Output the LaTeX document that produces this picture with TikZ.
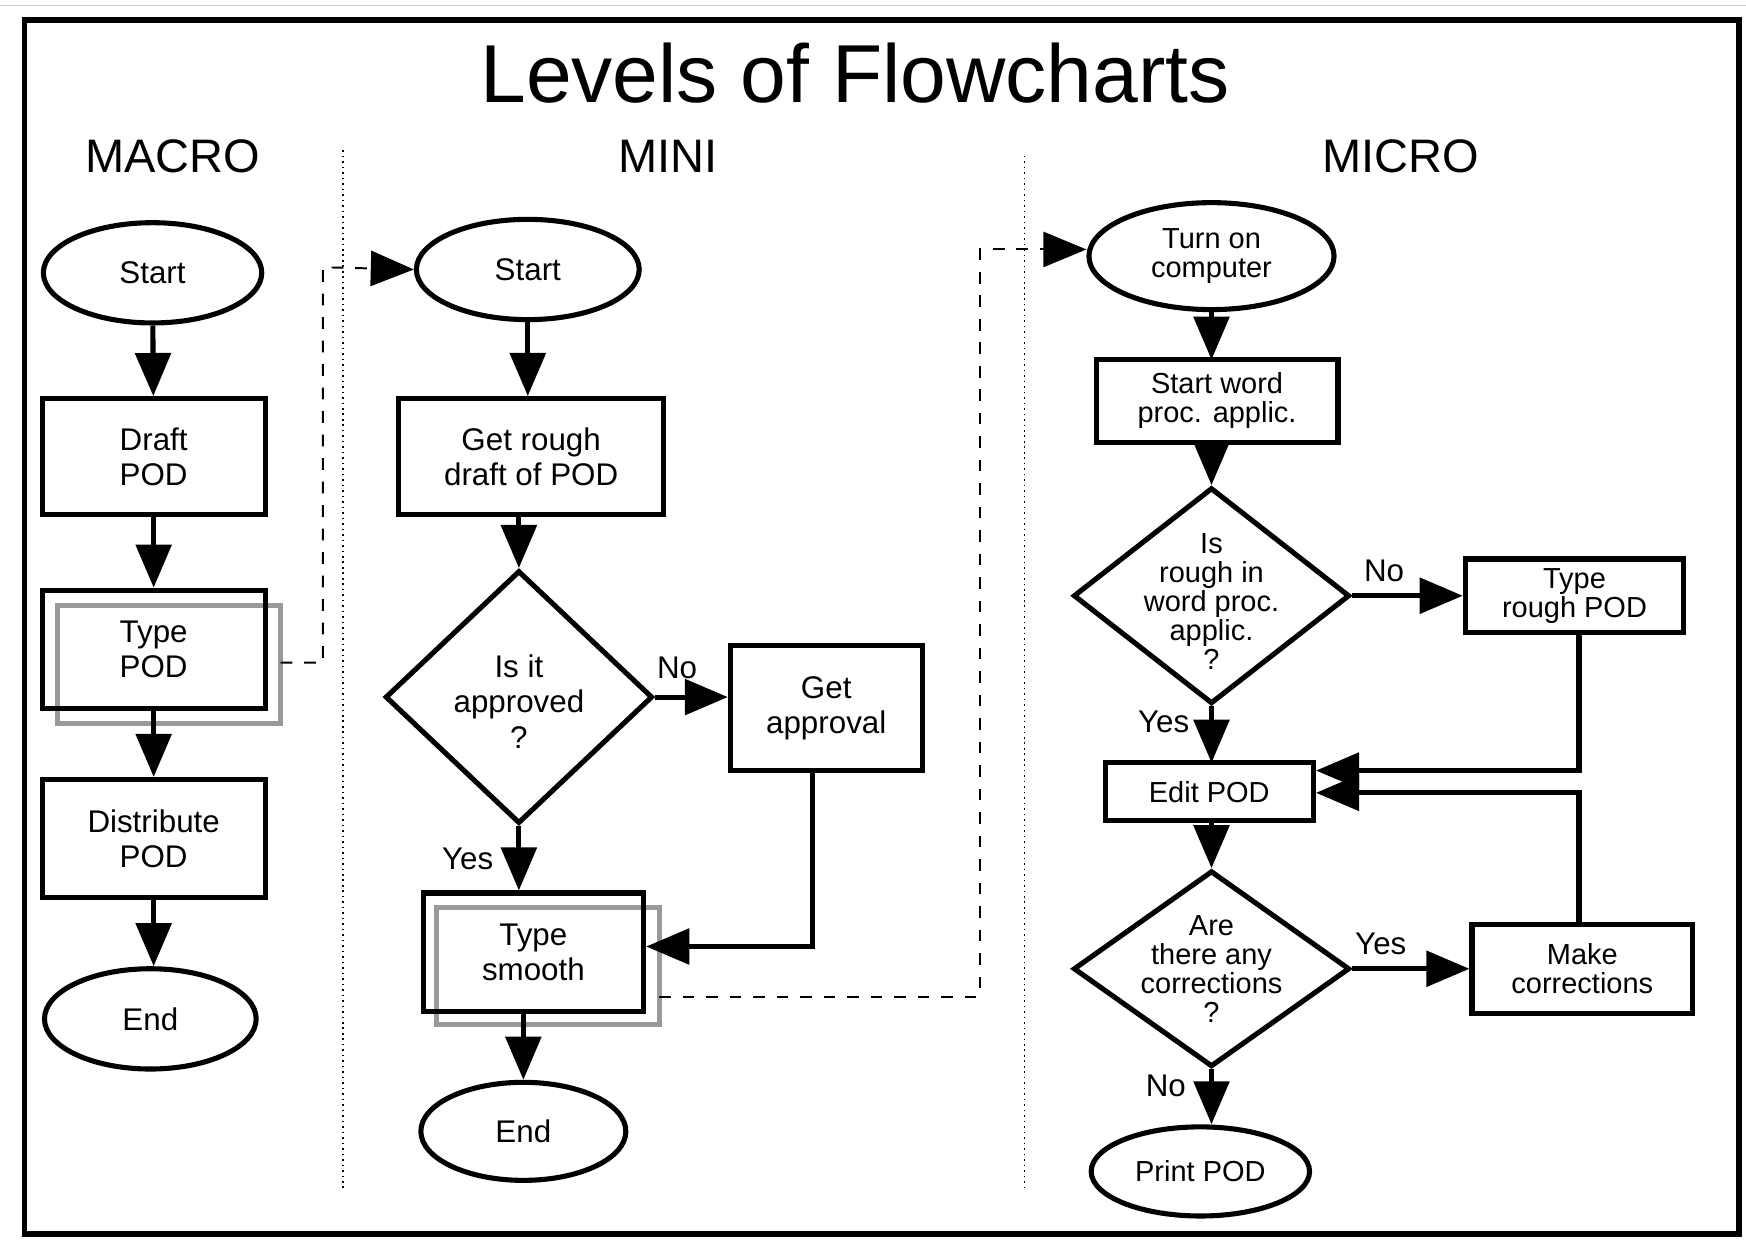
\documentclass[tikz,border=0pt]{standalone}
\usepackage{fontspec}
\setmainfont{Liberation Sans}
\usetikzlibrary{arrows.meta,shapes.geometric}
\begin{document}
\begin{tikzpicture}[x=0.01cm,y=-0.01cm,
 txt/.style={font=\fontsize{8}{9}\selectfont,align=center,inner sep=0pt},
 mtxt/.style={font=\fontsize{7.4}{7.4}\selectfont,align=center,inner sep=0pt},
 box/.style={txt,draw,line width=1.3pt,rectangle},
 oval/.style={txt,draw,line width=1.3pt,ellipse},
 dia/.style={draw,line width=1.3pt,diamond,inner sep=0pt},
 grayb/.style={draw=gray!80,line width=1.3pt},
 arr/.style={line width=1.3pt,-{Triangle[length=11pt,width=9pt]}},
 dsh/.style={dashed,line width=0.5pt,-{Triangle[length=11pt,width=9pt]}},
 lab/.style={font=\fontsize{8}{9}\selectfont,inner sep=0pt}]
\useasboundingbox (0,0) rectangle (1568,1114);
\draw[gray!40] (0,5) -- (1568,5);
\draw[line width=1.5pt] (22,18) rectangle (1562,1108);
\node[inner sep=0pt,font=\fontsize{21}{24}\selectfont] (title) at (768,66) {Levels of Flowcharts};
\node[lab,font=\fontsize{12}{14}\selectfont] (h1) at (155,140) {MACRO};
\node[lab,font=\fontsize{12}{14}\selectfont] (h2) at (600,140) {MINI};
\node[lab,font=\fontsize{12}{14}\selectfont] (h3) at (1258,140) {MICRO};
\draw[densely dotted] (308,135) -- (308,1068);
\draw[densely dotted] (920,140) -- (920,1068);
% MACRO
\node[oval,minimum width=1.96cm,minimum height=0.9cm] (s1) at (137,245) {Start};
\node[box,minimum width=2cm,minimum height=1.04cm] (d1) at (138,410) {Draft\\POD};
\draw[grayb] (52,544) rectangle (252,650);
\node[box,minimum width=2cm,minimum height=1.06cm] (t1) at (138,583) {Type\\POD};
\node[box,minimum width=2cm,minimum height=1.06cm] (di1) at (138,753) {Distribute\\POD};
\node[oval,minimum width=1.9cm,minimum height=0.9cm] (e1) at (135,915) {End};
\draw[arr] (s1) -- (d1);
\draw[arr] (d1) -- (t1);
\draw[arr] (t1) -- (di1);
\draw[arr] (di1.south) -- (di1.south|-e1.north);
% MINI
\node[oval,minimum width=2cm,minimum height=0.9cm] (s2) at (474,242) {Start};
\node[box,minimum width=2.38cm,minimum height=1.04cm] (g2) at (477,410) {Get rough\\draft of POD};
\node[dia,minimum width=2.4cm,minimum height=2.27cm] (q2) at (466,626) {};
\node[txt] (q2t) at (466,630) {Is it\\approved\\?};
\node[box,minimum width=1.72cm,minimum height=1.12cm] (a2) at (742,636) {Get\\approval};
\draw[grayb] (392,815) rectangle (592,920);
\node[box,minimum width=1.98cm,minimum height=1.06cm] (ts2) at (479,855) {Type\\smooth};
\node[oval,minimum width=1.84cm,minimum height=0.88cm] (e2) at (470,1016) {End};
\coordinate (k1) at (730,850);
\draw[arr] (s2.south) -- (s2.south|-g2.north);
\draw[arr] (g2.south-|466,0) -- (q2.north);
\draw[arr] (q2.east) -- (a2.west|-q2.east);
\draw[arr] (q2.south) -- (ts2.north-|q2.south);
\draw[arr] (a2.south-|k1) -- (k1) -- (ts2.east|-k1);
\draw[arr] (ts2.south-|470,0) -- (e2.north);
\node[lab] (y2) at (420,771) {Yes};
\node[lab] (n2) at (608,600) {No};
% dashed
\coordinate (c1) at (290,595); \coordinate (c2) at (290,240);
\draw[dsh] (252,595) -- (c1) -- (c2) -- (s2.west);
\coordinate (c3) at (880,895); \coordinate (c4) at (880,224);
% MICRO
\node[oval,mtxt,minimum width=2.2cm,minimum height=0.96cm] (s3) at (1088,230) {Turn on\\computer};
\draw[dsh] (592,895) -- (c3) -- (c4) -- (s3.west|-c4);
\node[box,mtxt,minimum width=2.17cm,minimum height=0.75cm] (w3) at (1093,360) {Start word\\proc. applic.};
\node[dia,minimum width=2.48cm,minimum height=1.94cm] (q3) at (1088,535) {};
\node[mtxt] (q3t) at (1088,540) {Is\\rough in\\word proc.\\applic.\\?};
\node[box,mtxt,minimum width=1.96cm,minimum height=0.66cm] (r3) at (1414,535) {Type\\rough POD};
\node[box,mtxt,minimum width=1.87cm,minimum height=0.52cm] (ed3) at (1086,711) {Edit POD};
\node[dia,minimum width=2.48cm,minimum height=1.76cm] (q4) at (1088,870) {};
\node[mtxt] (q4t) at (1088,870) {Are\\there any\\corrections\\?};
\node[box,mtxt,minimum width=1.98cm,minimum height=0.8cm] (m3) at (1421,870) {Make\\corrections};
\node[oval,mtxt,minimum width=1.96cm,minimum height=0.8cm] (p3) at (1078,1052) {Print POD};
\coordinate (k2) at (1418,692); \coordinate (k3) at (1418,712);
\draw[arr] (1088,278) -- (1088,323);
\draw[arr] (1088,398) -- (q3.north);
\draw[arr] (q3.east) -- (r3.west|-q3.east);
\draw[arr] (q3.south) -- (1088,685);
\draw[arr] (r3.south-|k2) -- (k2) -- (ed3.east|-k2);
\draw[arr] (m3.north-|k3) -- (k3) -- (ed3.east|-k3);
\draw[arr] (1088,737) -- (q4.north);
\draw[arr] (q4.east) -- (m3.west|-q4.east);
\draw[arr] (q4.south) -- (p3.north-|q4.south);
\node[lab] (n3) at (1243,513) {No};
\node[lab] (y3) at (1045,648) {Yes};
\node[lab] (y4) at (1240,848) {Yes};
\node[lab] (n4) at (1047,975) {No};
\end{tikzpicture}
\end{document}
